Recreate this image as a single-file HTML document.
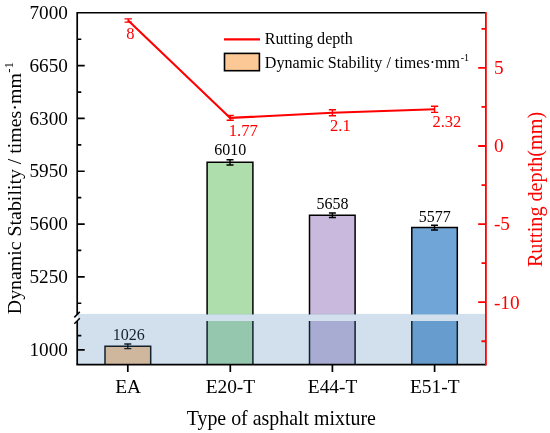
<!DOCTYPE html>
<html>
<head>
<meta charset="utf-8">
<title>Dynamic stability and rutting depth</title>
<style>
html,body{margin:0;padding:0;background:#fff;}
svg{display:block;font-family:"Liberation Serif","Times New Roman",serif;}
</style>
</head>
<body>
<svg width="550" height="433" viewBox="0 0 550 433">
<rect x="0" y="0" width="550" height="433" fill="#fff"/>

<!-- bars -->
<g stroke="none">
<rect x="207.1" y="162.3" width="45.8" height="152.1" fill="#aedeac"/>
<rect x="309.5" y="215.3" width="45.6" height="99.1" fill="#c9b9dc"/>
<rect x="411.8" y="227.4" width="45.5" height="87" fill="#70a6d7"/>
<rect x="105" y="346.2" width="45.7" height="18.4" fill="#fcc896"/>
<rect x="207.1" y="321" width="45.8" height="43.6" fill="#aedeac"/>
<rect x="309.5" y="321" width="45.6" height="43.6" fill="#c9b9dc"/>
<rect x="411.8" y="321" width="45.5" height="43.6" fill="#70a6d7"/>
</g>
<g stroke="#000" stroke-width="1.5" fill="none">
<path d="M105 364.6V346.2H150.7V364.6"/>
<path d="M207.1 314.4V162.3H252.9V314.4M207.1 364.6V321M252.9 364.6V321"/>
<path d="M309.5 314.4V215.3H355.1V314.4M309.5 364.6V321M355.1 364.6V321"/>
<path d="M411.8 314.4V227.4H457.3V314.4M411.8 364.6V321M457.3 364.6V321"/>
</g>

<!-- bar error bars -->
<g stroke="#000" stroke-width="1.4" fill="none">
<path d="M127.8 344V348.6M124.3 344H131.3M124.3 348.6H131.3"/>
<path d="M230 159.8V165M226.5 159.8H233.5M226.5 165H233.5"/>
<path d="M332.4 213V217.5M328.9 213H335.9M328.9 217.5H335.9"/>
<path d="M434.5 225.2V230M431 225.2H438M431 230H438"/>
</g>
<!-- bar labels -->
<g font-size="16" fill="#000" text-anchor="middle">
<text x="128.8" y="339.6">1026</text>
<text x="230.2" y="155.2">6010</text>
<text x="332.6" y="209.2">5658</text>
<text x="434.8" y="221.6">5577</text>
</g>

<!-- blue band -->
<rect x="78" y="313.9" width="407.6" height="50.7" fill="#4682b4" fill-opacity="0.25"/>

<!-- red line -->
<polyline points="128.2,20.5 230.2,117.9 332.4,112.8 434.6,109.3" fill="none" stroke="#ff0000" stroke-width="2.1" stroke-linejoin="round"/>
<g stroke="#ff0000" stroke-width="1.4" fill="none">
<path d="M128.2 18.9V22.1M124.5 18.9H131.9M124.5 22.1H131.9"/>
<path d="M230.2 115.4V120.3M226.6 115.4H233.8M226.6 120.3H233.8"/>
<path d="M332.4 109.8V115.8M328.8 109.8H336M328.8 115.8H336"/>
<path d="M434.6 106.2V112.4M431 106.2H438.2M431 112.4H438.2"/>
</g>
<g font-size="16.5" fill="#ff0000">
<text x="126.2" y="38.7">8</text>
<text x="228.8" y="135.9">1.77</text>
<text x="330" y="130.8">2.1</text>
<text x="432.4" y="127.3">2.32</text>
</g>

<!-- axes black -->
<g stroke="#000" stroke-width="1.7" fill="none">
<path d="M77.2 364.6V321M77.2 314.6V12.75H485.9"/>
<path d="M76.35 364.6H485.9"/>
<!-- break marks -->
<path d="M74.3 317.4L79.8 311.9M74.3 323.7L79.8 318.2" stroke-width="1.5"/>
<!-- major ticks left -->
<path d="M77.2 65.65H84.7M77.2 118.45H84.7M77.2 171.25H84.7M77.2 224.05H84.7M77.2 276.85H84.7M77.2 349.8H84.7"/>
<!-- minor ticks left -->
<path d="M77.2 39.25H81.3M77.2 92.05H81.3M77.2 144.85H81.3M77.2 197.65H81.3M77.2 250.45H81.3M77.2 303.25H81.3M77.2 335.6H81.3"/>
<!-- x ticks -->
<path d="M127.8 364.6V372M230.3 364.6V372M332.4 364.6V372M434.6 364.6V372"/>
</g>

<!-- right axis red -->
<g stroke="#ff0000" stroke-width="1.8" fill="none">
<path d="M485.9 12V365.4"/>
<path d="M485.9 67.90H478.2M485.9 146.00H478.2M485.9 224.10H478.2M485.9 302.20H478.2"/>
<path d="M485.9 28.85H481.5M485.9 106.95H481.5M485.9 185.05H481.5M485.9 263.15H481.5M485.9 341.25H481.5"/>
</g>

<!-- left tick labels -->
<g font-size="19.2" fill="#000" text-anchor="end">
<text x="67.9" y="19.05">7000</text>
<text x="67.9" y="71.85">6650</text>
<text x="67.9" y="124.65">6300</text>
<text x="67.9" y="177.45">5950</text>
<text x="67.9" y="230.25">5600</text>
<text x="67.9" y="283.05">5250</text>
<text x="67.9" y="356">1000</text>
</g>
<!-- right tick labels -->
<g font-size="19.3" fill="#ff0000">
<text x="493.9" y="74.20">5</text>
<text x="493.9" y="152.30">0</text>
<text x="493.9" y="230.40">-5</text>
<text x="493.9" y="308.50">-10</text>
</g>
<!-- x tick labels -->
<g font-size="19.4" fill="#000" text-anchor="middle">
<text x="128.2" y="392.8">EA</text>
<text x="230.4" y="392.8">E20-T</text>
<text x="332.6" y="392.8">E44-T</text>
<text x="434.8" y="392.8">E51-T</text>
</g>
<text x="281.3" y="424.8" font-size="19.9" text-anchor="middle" fill="#000">Type of asphalt mixture</text>

<!-- y labels -->
<text transform="translate(20.6 314.2) rotate(-90)" font-size="19.87" fill="#000">Dynamic Stability / times·mm<tspan font-size="13" dx="0.3" dy="-7.9">-1</tspan></text>
<text transform="translate(542.3 267.1) rotate(-90)" font-size="20.2" fill="#ff0000">Rutting depth(mm)</text>

<!-- legend -->
<path d="M224 39.4H260" stroke="#ff0000" stroke-width="2.1"/>
<rect x="224.5" y="53.4" width="34.9" height="17.3" fill="#fcc896" stroke="#000" stroke-width="1.6"/>
<g font-size="16.1" fill="#000">
<text x="264.8" y="44.4">Rutting depth</text>
<text x="264.8" y="67.9">Dynamic Stability / times·mm<tspan font-size="10" dx="0.5" dy="-6.5">-1</tspan></text>
</g>
</svg>
</body>
</html>
